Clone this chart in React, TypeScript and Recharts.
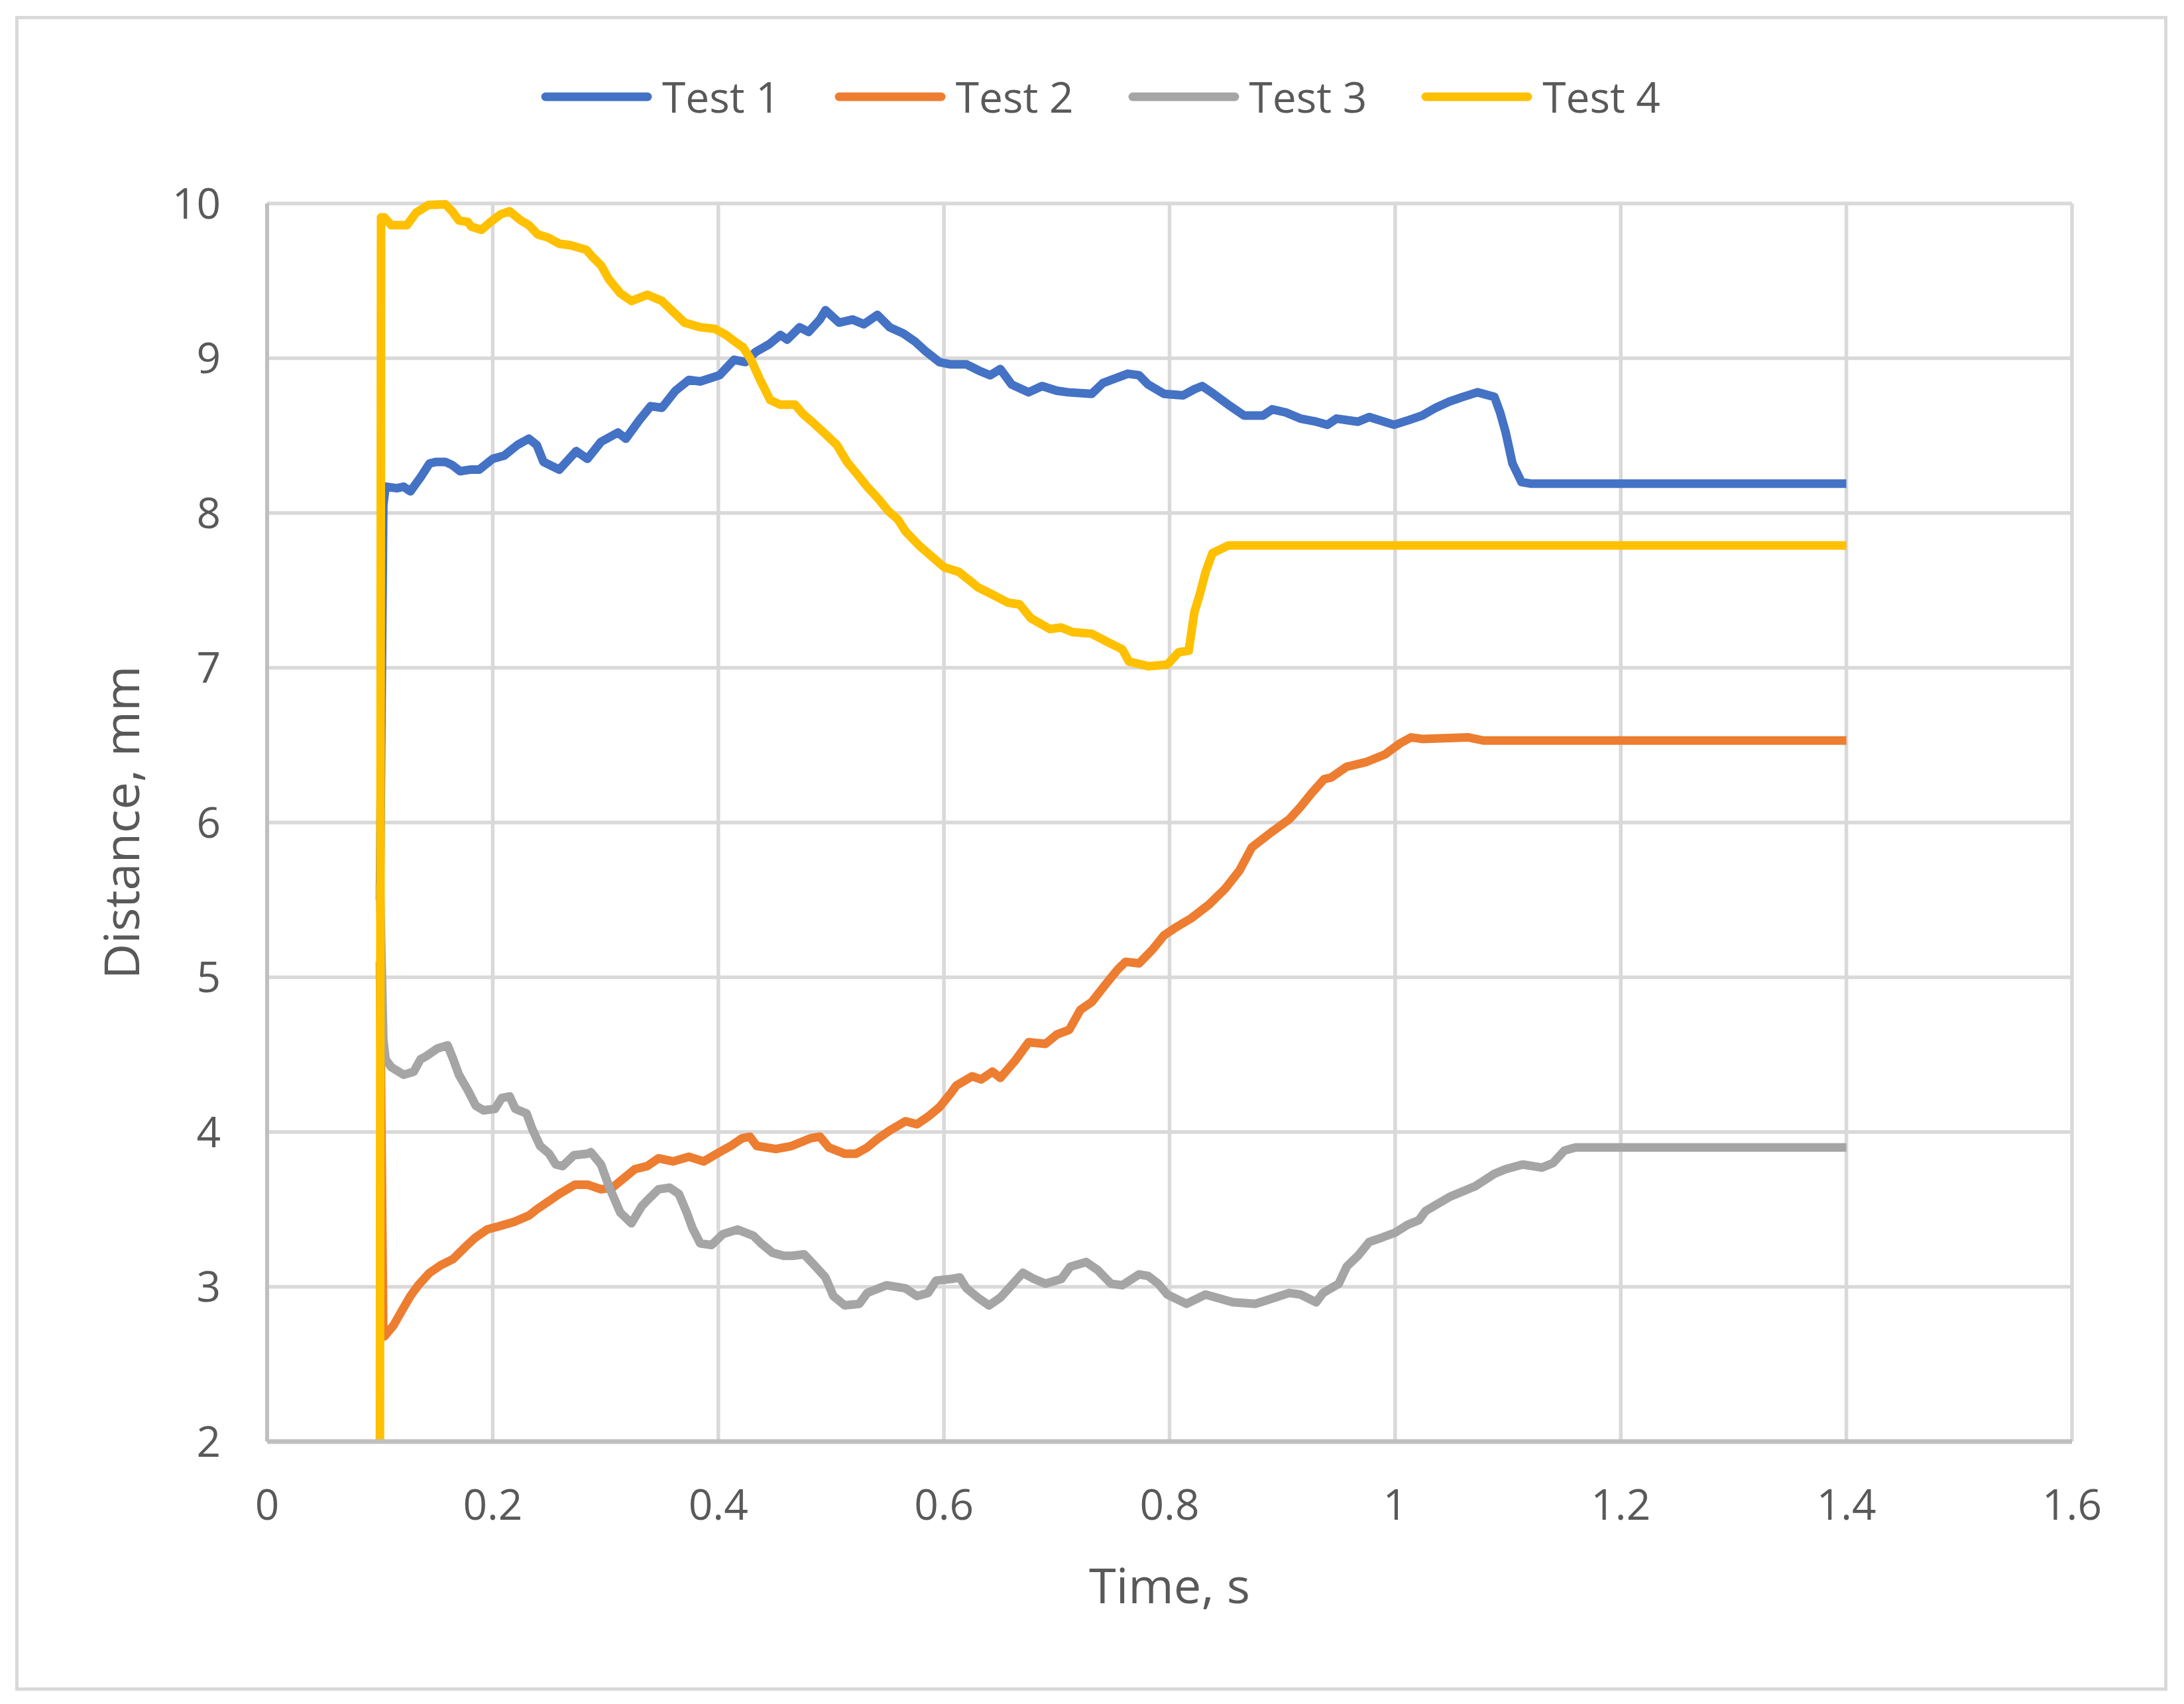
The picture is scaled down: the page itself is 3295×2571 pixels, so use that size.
import React from 'react';
import { LineChart, Line, XAxis, YAxis, CartesianGrid, Legend } from 'recharts';

// axis ticks
const xTicks = [0, 0.2, 0.4, 0.6, 0.8, 1, 1.2, 1.4, 1.6];
const yTicks = [2, 3, 4, 5, 6, 7, 8, 9, 10];

const seriesNames = ['Test 1', 'Test 2', 'Test 3', 'Test 4'];
const seriesColors = ['#4472c4', '#ed7d31', '#a5a5a5', '#ffc000'];

// [time s, distance mm]
const test1: [number, number][] = [
  [0.1, 5.5], [0.103, 8.05], [0.105, 8.17], [0.115, 8.16], [0.121, 8.17], [0.127, 8.14], [0.136, 8.23],
  [0.144, 8.32], [0.15, 8.33], [0.158, 8.33], [0.164, 8.31], [0.171, 8.27], [0.18, 8.28], [0.188, 8.28],
  [0.2, 8.35], [0.21, 8.37], [0.222, 8.44], [0.232, 8.48], [0.239, 8.44], [0.245, 8.33], [0.259, 8.28],
  [0.274, 8.4], [0.284, 8.35], [0.296, 8.46], [0.311, 8.52], [0.318, 8.48], [0.33, 8.6], [0.34, 8.69],
  [0.35, 8.68], [0.362, 8.79], [0.374, 8.86], [0.384, 8.85], [0.401, 8.89], [0.414, 8.99], [0.424, 8.975],
  [0.433, 9.04], [0.445, 9.09], [0.455, 9.15], [0.461, 9.12], [0.472, 9.2], [0.48, 9.17], [0.49, 9.25],
  [0.495, 9.31], [0.507, 9.23], [0.519, 9.25], [0.529, 9.22], [0.541, 9.28], [0.552, 9.2], [0.564, 9.16],
  [0.574, 9.11], [0.583, 9.05], [0.596, 8.975], [0.606, 8.96], [0.62, 8.96], [0.631, 8.92], [0.641, 8.89],
  [0.65, 8.93], [0.66, 8.83], [0.675, 8.78], [0.687, 8.82], [0.7, 8.79], [0.71, 8.78], [0.731, 8.77],
  [0.741, 8.84], [0.752, 8.87], [0.763, 8.9], [0.773, 8.89], [0.781, 8.83], [0.795, 8.77], [0.812, 8.76],
  [0.822, 8.8], [0.829, 8.82], [0.839, 8.77], [0.852, 8.7], [0.866, 8.63], [0.883, 8.63], [0.891, 8.67],
  [0.903, 8.65], [0.916, 8.61], [0.93, 8.59], [0.94, 8.57], [0.948, 8.61], [0.967, 8.59], [0.977, 8.62],
  [0.999, 8.57], [1.012, 8.6], [1.024, 8.63], [1.036, 8.68], [1.048, 8.72], [1.06, 8.75], [1.073, 8.78],
  [1.088, 8.75], [1.093, 8.65], [1.098, 8.52], [1.104, 8.32], [1.112, 8.2], [1.12, 8.19], [1.4, 8.19],
];

const test2: [number, number][] = [
  [0.1, 5.1], [0.103, 2.68], [0.104, 2.68], [0.112, 2.75], [0.119, 2.84], [0.127, 2.94], [0.134, 3.01],
  [0.144, 3.09], [0.154, 3.14], [0.165, 3.18], [0.176, 3.26], [0.185, 3.32], [0.195, 3.37], [0.205, 3.39],
  [0.219, 3.42], [0.232, 3.46], [0.239, 3.5], [0.249, 3.55], [0.259, 3.6], [0.273, 3.66], [0.284, 3.66],
  [0.296, 3.63], [0.306, 3.64], [0.316, 3.7], [0.326, 3.76], [0.337, 3.78], [0.347, 3.83], [0.36, 3.81],
  [0.374, 3.84], [0.387, 3.81], [0.401, 3.87], [0.411, 3.91], [0.421, 3.96], [0.428, 3.97], [0.434, 3.91],
  [0.451, 3.89], [0.465, 3.91], [0.482, 3.96], [0.49, 3.97], [0.498, 3.9], [0.512, 3.86], [0.522, 3.86],
  [0.532, 3.9], [0.542, 3.96], [0.552, 4.01], [0.566, 4.07], [0.576, 4.05], [0.586, 4.1], [0.596, 4.16],
  [0.606, 4.25], [0.611, 4.3], [0.625, 4.36], [0.633, 4.34], [0.643, 4.39], [0.65, 4.35], [0.663, 4.46],
  [0.675, 4.58], [0.69, 4.57], [0.7, 4.63], [0.711, 4.66], [0.721, 4.79], [0.731, 4.84], [0.744, 4.96],
  [0.754, 5.05], [0.761, 5.1], [0.773, 5.09], [0.785, 5.18], [0.795, 5.27], [0.805, 5.32], [0.819, 5.38],
  [0.835, 5.47], [0.849, 5.57], [0.862, 5.69], [0.873, 5.84], [0.889, 5.93], [0.906, 6.02], [0.916, 6.1],
  [0.926, 6.19], [0.937, 6.28], [0.943, 6.29], [0.957, 6.36], [0.974, 6.39], [0.991, 6.44], [1.004, 6.51],
  [1.014, 6.55], [1.024, 6.54], [1.065, 6.55], [1.078, 6.53], [1.4, 6.53],
];

const test3: [number, number][] = [
  [0.1, 5.6], [0.103, 4.6], [0.105, 4.47], [0.11, 4.42], [0.121, 4.37], [0.13, 4.39], [0.136, 4.47],
  [0.141, 4.49], [0.151, 4.54], [0.16, 4.56], [0.165, 4.47], [0.17, 4.37], [0.178, 4.27], [0.185, 4.17],
  [0.192, 4.14], [0.202, 4.15], [0.208, 4.22], [0.215, 4.23], [0.22, 4.15], [0.23, 4.12], [0.235, 4.02],
  [0.242, 3.91], [0.25, 3.86], [0.256, 3.79], [0.262, 3.78], [0.272, 3.85], [0.284, 3.86], [0.287, 3.87],
  [0.296, 3.79], [0.303, 3.65], [0.313, 3.48], [0.323, 3.41], [0.332, 3.52], [0.34, 3.58], [0.347, 3.63],
  [0.357, 3.64], [0.365, 3.6], [0.372, 3.48], [0.377, 3.38], [0.384, 3.28], [0.394, 3.27], [0.404, 3.34],
  [0.417, 3.37], [0.431, 3.33], [0.438, 3.28], [0.448, 3.22], [0.458, 3.2], [0.466, 3.2], [0.476, 3.21],
  [0.485, 3.14], [0.495, 3.06], [0.502, 2.94], [0.512, 2.88], [0.525, 2.89], [0.532, 2.96], [0.549, 3.01],
  [0.566, 2.99], [0.576, 2.94], [0.586, 2.96], [0.593, 3.04], [0.606, 3.05], [0.614, 3.06], [0.62, 2.99],
  [0.63, 2.93], [0.64, 2.88], [0.65, 2.93], [0.66, 3.01], [0.67, 3.09], [0.68, 3.05], [0.69, 3.02],
  [0.704, 3.05], [0.712, 3.13], [0.726, 3.16], [0.736, 3.11], [0.748, 3.02], [0.758, 3.01], [0.773, 3.08],
  [0.781, 3.07], [0.79, 3.02], [0.798, 2.95], [0.815, 2.89], [0.832, 2.95], [0.856, 2.9], [0.876, 2.89],
  [0.889, 2.92], [0.906, 2.96], [0.916, 2.95], [0.93, 2.9], [0.936, 2.96], [0.95, 3.02], [0.957, 3.13],
  [0.967, 3.2], [0.977, 3.29], [0.989, 3.32], [1.0, 3.35], [1.011, 3.4], [1.021, 3.43], [1.027, 3.49],
  [1.048, 3.58], [1.071, 3.65], [1.088, 3.73], [1.098, 3.76], [1.113, 3.79], [1.13, 3.77], [1.14, 3.8],
  [1.15, 3.88], [1.16, 3.9], [1.4, 3.9],
];

const test4: [number, number][] = [
  [0.1, 2.0], [0.101, 9.91], [0.104, 9.91], [0.11, 9.86], [0.124, 9.86], [0.132, 9.94], [0.143, 9.99],
  [0.158, 9.995], [0.164, 9.95], [0.17, 9.89], [0.178, 9.88], [0.181, 9.85], [0.19, 9.83], [0.198, 9.88],
  [0.207, 9.93], [0.215, 9.95], [0.225, 9.89], [0.232, 9.86], [0.24, 9.8], [0.249, 9.78], [0.259, 9.74],
  [0.269, 9.73], [0.283, 9.7], [0.289, 9.65], [0.296, 9.6], [0.303, 9.51], [0.313, 9.42], [0.323, 9.37],
  [0.337, 9.41], [0.35, 9.37], [0.36, 9.3], [0.37, 9.23], [0.384, 9.2], [0.397, 9.19], [0.407, 9.15],
  [0.416, 9.1], [0.422, 9.07], [0.429, 8.99], [0.437, 8.86], [0.446, 8.73], [0.455, 8.7], [0.468, 8.7],
  [0.475, 8.64], [0.483, 8.59], [0.492, 8.53], [0.505, 8.44], [0.514, 8.33], [0.522, 8.26], [0.532, 8.17],
  [0.542, 8.09], [0.551, 8.01], [0.559, 7.96], [0.566, 7.88], [0.578, 7.79], [0.589, 7.72], [0.6, 7.65],
  [0.613, 7.62], [0.62, 7.58], [0.63, 7.52], [0.641, 7.48], [0.657, 7.42], [0.667, 7.41], [0.677, 7.32],
  [0.694, 7.25], [0.704, 7.26], [0.714, 7.23], [0.731, 7.22], [0.744, 7.17], [0.758, 7.12], [0.764, 7.04],
  [0.781, 7.01], [0.798, 7.02], [0.808, 7.1], [0.817, 7.11], [0.822, 7.36], [0.827, 7.48], [0.832, 7.62],
  [0.838, 7.74], [0.852, 7.79], [1.4, 7.79],
];

const allSeries = [test1, test2, test3, test4];

const FONT = '"Open Sans", sans-serif';
const TEXT = '#595959';

const toPoints = (rows: [number, number][]) => rows.map(([t, v]) => ({ t, v }));

// legend drawn like Excel's: long line swatch, then the name
const renderLegend = () => (
  <div style={{ display: 'flex', justifyContent: 'center', alignItems: 'center', height: 90, gap: 82 }}>
    {seriesNames.map((name, i) => (
      <div key={name} style={{ display: 'flex', alignItems: 'center', gap: 15 }}>
        <svg width={168} height={16}>
          <line x1={7} y1={8} x2={161} y2={8} stroke={seriesColors[i]} strokeWidth={13} strokeLinecap="round" />
        </svg>
        <span style={{ fontFamily: FONT, fontSize: 64, color: TEXT, lineHeight: '90px' }}>{name}</span>
      </div>
    ))}
  </div>
);

const XTitle = (props: any) => {
  const { x, y, width } = props.viewBox;
  return (
    <text x={x + width / 2} y={y + 244} textAnchor="middle" fill={TEXT} fontSize={74} fontFamily={FONT}>
      Time, s
    </text>
  );
};

const YTitle = (props: any) => {
  const { x, y, height } = props.viewBox;
  const cx = x + 210;
  const cy = y + height / 2;
  return (
    <text x={cx} y={cy} transform={`rotate(-90, ${cx}, ${cy})`} textAnchor="middle" fill={TEXT} fontSize={74} fontFamily={FONT}>
      Distance, mm
    </text>
  );
};

export default function App() {
  return (
    <div style={{ position: 'relative', width: 3295, height: 2571, background: '#fff' }}>
      <style>{'body { margin: 0; }'}</style>
      <div
        style={{
          position: 'absolute', left: 23, top: 24, width: 3247, height: 2527,
          border: '5px solid #d9d9d9', boxSizing: 'border-box',
        }}
      />
      <LineChart width={3295} height={2571} margin={{ top: 307, right: 169, bottom: 0, left: 0 }}>
        <CartesianGrid stroke="#d9d9d9" strokeWidth={5.5} />
        <XAxis
          dataKey="t"
          type="number"
          domain={[0, 1.6]}
          ticks={xTicks}
          height={396}
          tickSize={0}
          tickMargin={73}
          axisLine={{ stroke: '#bfbfbf', strokeWidth: 7 }}
          tickLine={false}
          tick={{ fill: TEXT, fontSize: 64, fontFamily: FONT }}
          label={<XTitle />}
        />
        <YAxis
          dataKey="v"
          type="number"
          domain={[2, 10]}
          ticks={yTicks}
          width={403}
          tickSize={0}
          tickMargin={70}
          axisLine={{ stroke: '#bfbfbf', strokeWidth: 6 }}
          tickLine={false}
          tick={{ fill: TEXT, fontSize: 64, fontFamily: FONT }}
          label={<YTitle />}
        />
        <Legend
          verticalAlign="middle"
          align="center"
          layout="horizontal"
          content={renderLegend}
          wrapperStyle={{ top: 101, left: 13, width: 3295, height: 90 }}
        />
        {allSeries.map((rows, i) => (
          <Line
            key={seriesNames[i]}
            name={seriesNames[i]}
            data={toPoints(rows)}
            dataKey="v"
            type="linear"
            stroke={seriesColors[i]}
            strokeWidth={13}
            strokeLinejoin="round"
            dot={false}
            activeDot={false}
            isAnimationActive={false}
          />
        ))}
      </LineChart>
    </div>
  );
}
